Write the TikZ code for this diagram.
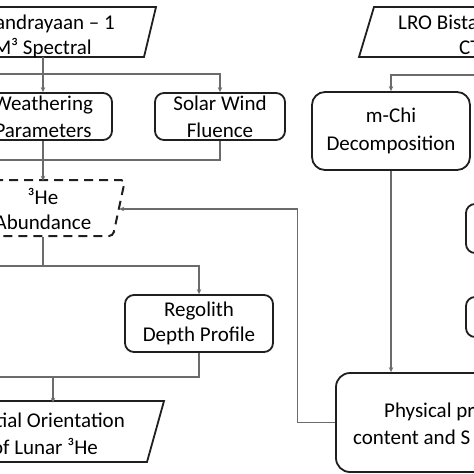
\documentclass[tikz,border=0pt]{standalone}
\usepackage{fontspec}
\setmainfont{Carlito}
\usetikzlibrary{arrows.meta,calc}
\newcommand\diagfont{\fontsize{21}{25}\selectfont}
\newcommand\diagfontwide{\fontsize{21}{27}\selectfont}
\begin{document}
\begin{tikzpicture}[x=1pt,y=-1pt,
  outline/.style={draw=black!88,line width=1.8pt},
  box/.style={outline,rounded corners=9pt,inner sep=0pt,align=center,font=\diagfontwide},
  holder/.style={inner sep=0pt,align=center,font=\diagfont},
  lbl/.style={inner sep=0pt,font=\diagfont},
  conn/.style={draw=black!58,line width=1.1pt},
  arr/.style={conn,-{Stealth[length=5pt,width=4.5pt]}}]
\useasboundingbox (0,0) rectangle (474,474);
\clip (0,0) rectangle (474,474);
% parallelogram outlines
\draw[outline] (-40,7) -- (156,7) -- (144,57) -- (-52,57) -- cycle;
\draw[outline,dash pattern=on 9pt off 6pt,line width=2pt,rounded corners=4pt] (-40,180) -- (125,180) -- (113,236) -- (-52,236) -- cycle;
\draw[outline] (-40,401) -- (164,401) -- (147,462) -- (-57,462) -- cycle;
\draw[outline] (374,7) -- (520,7) -- (505,57) -- (359,57) -- cycle;
% text holders for parallelograms
\node[inner sep=0pt,minimum width=212pt,minimum height=50pt] (chy) at (44,32) {};
\node[lbl,anchor=base east] (chya) at (115,29) {Chandrayaan – 1};
\node[lbl,anchor=base east] (chyb) at (92,54) {M³ Spectral};
\node[holder,minimum width=152pt,minimum height=56pt] (he) at (43,209) {³He\\Abundance};
\node[holder,font=\diagfontwide,minimum width=200pt,minimum height=61pt] (sp) at (45,433.5) {Spatial Orientation\\of Lunar ³He};
\node[inner sep=0pt,minimum width=100pt,minimum height=50pt,anchor=west] (lro) at (366.5,32) {};
\node[lbl,anchor=base west] (lroa) at (398,29) {LRO Bistatic};
\node[lbl,anchor=base west] (lrob) at (459,54) {CT};
% rounded boxes
\node[box,minimum width=138pt,minimum height=47pt] (weath) at (43,116.5) {\raisebox{-3pt}{\parbox{138pt}{\centering Weathering\\Parameters}}};
\node[box,minimum width=130pt,minimum height=47pt] (solar) at (220,116.5) {\raisebox{-3pt}{\parbox{130pt}{\centering Solar Wind\\Fluence}}};
\node[box,font=\fontsize{21}{28}\selectfont,rounded corners=13pt,minimum width=158pt,minimum height=78pt] (mchi) at (391,131) {\raisebox{-2pt}{\parbox{150pt}{\centering m-Chi\\Decomposition}}};
\node[box,font=\diagfont,minimum width=148pt,minimum height=57pt] (reg) at (199,323.5) {\raisebox{-2pt}{\parbox{140pt}{\centering Regolith\\Depth Profile}}};
\node[box,rounded corners=14pt,minimum width=300pt,minimum height=99pt] (phys) at (486,422.5) {};
\node[lbl,anchor=base west] (physa) at (384,417) {Physical properties};
\node[lbl,anchor=base west] (physb) at (353,444) {content and S};
\node[box,minimum width=120pt,minimum height=49pt] (rb1) at (526,228.5) {};
\node[box,minimum width=120pt,minimum height=40pt] (rb2) at (526,317) {};
% junction points at the picture edges
\coordinate (j1) at (-5,74);
\coordinate (j2) at (-5,160);
\coordinate (j3) at (-5,266);
\coordinate (j4) at (-5,377);
\coordinate (jr) at (480,75);
% connectors
\draw[arr] (weath.north |- chy.south) -- (weath.north);
\draw[arr] (j1) -| (solar.north);
\draw[arr] (weath.south) -- (he.north);
\draw[conn] (solar.south) |- (j2);
\draw[conn] (he.south) -- (he.south |- j3);
\draw[arr] (j3) -| (reg.north);
\draw[conn] (reg.south) |- (j4);
\draw[arr] ([xshift=8pt]sp.north |- j4) -- ([xshift=8pt]sp.north);
\draw[arr] (jr) -| (mchi.north);
\draw[arr] (mchi.south) -- (mchi.south |- phys.north);
\draw[arr] (phys.west) -- ++(-38,0) |- (he.east);
\end{tikzpicture}
\end{document}
